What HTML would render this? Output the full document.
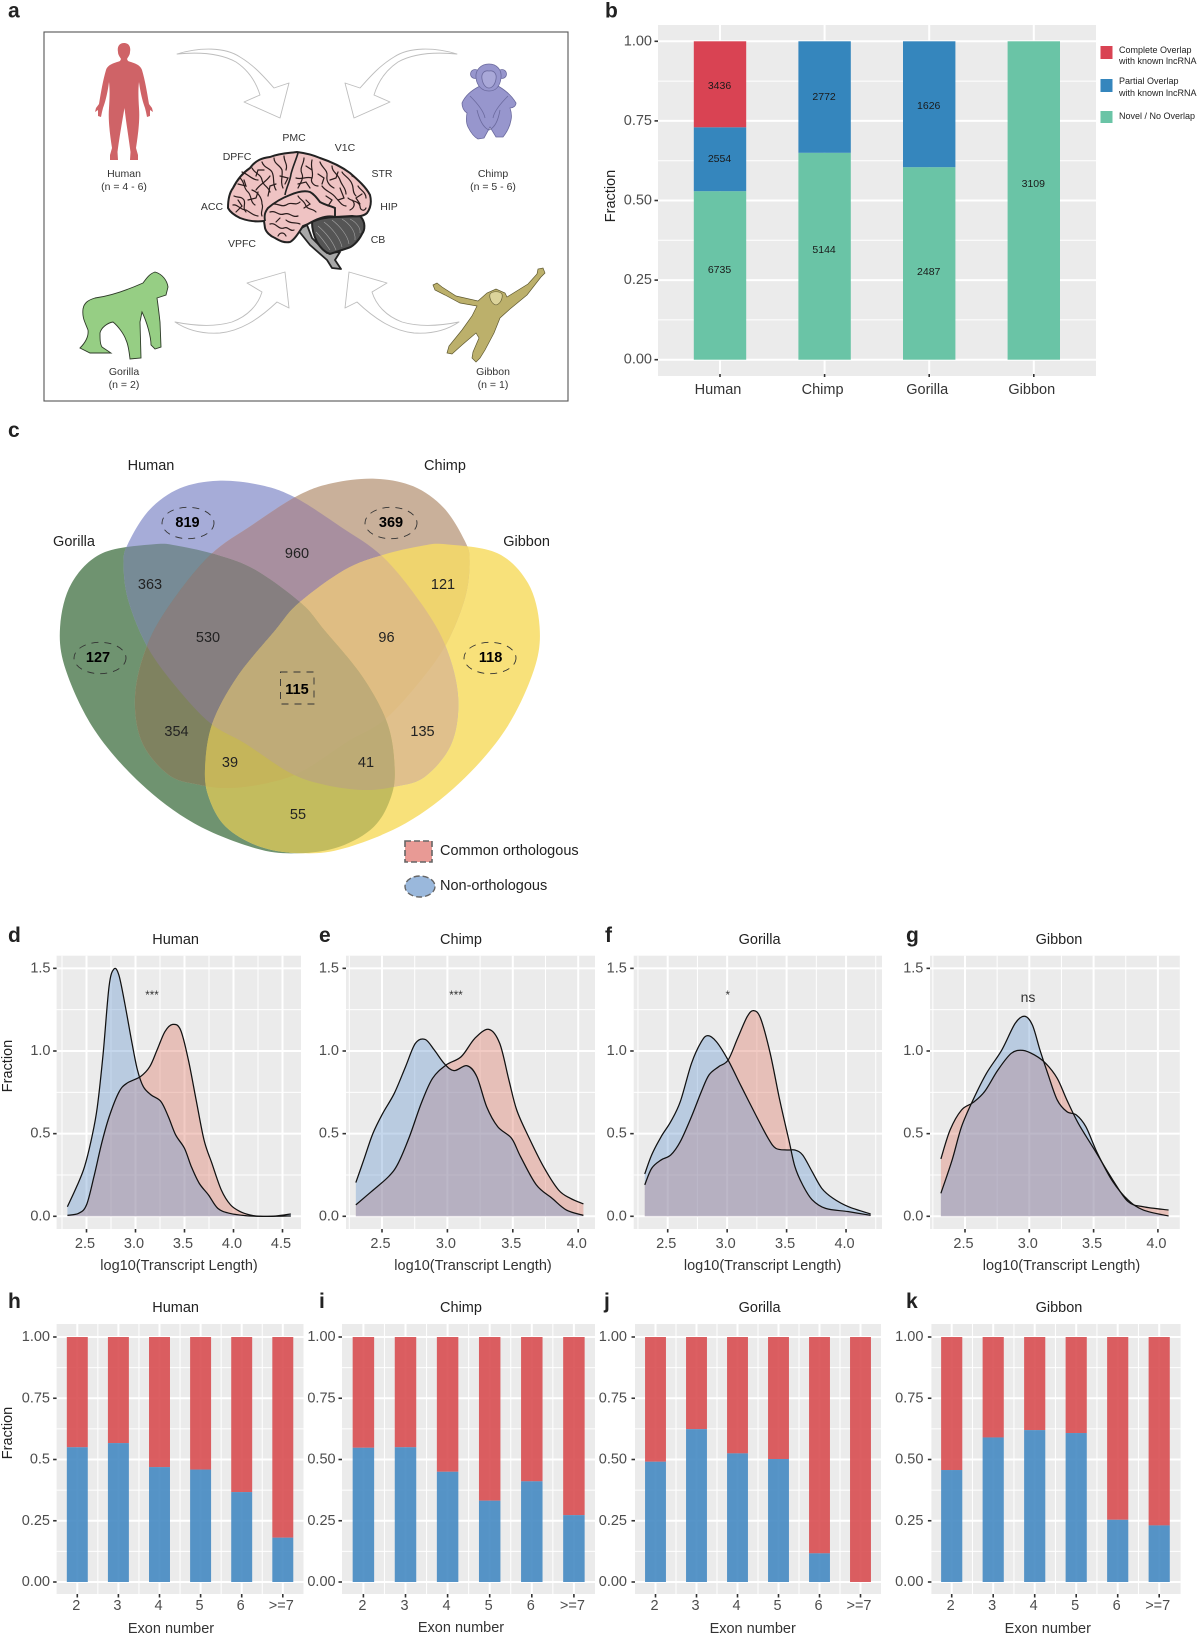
<!DOCTYPE html>
<html lang="en">
<head>
<meta charset="utf-8">
<title>lncRNA primate comparison figure</title>
<style>
html,body{margin:0;padding:0;background:#fff}
svg{display:block;font-family:"Liberation Sans",Arial,sans-serif;filter:blur(0.35px)}
text{dominant-baseline:central}
.pl{font-size:21px;font-weight:bold;fill:#222;dominant-baseline:auto}
.sm{font-size:10.5px;fill:#333;text-anchor:middle}
.vn{font-size:14.5px;fill:#222;text-anchor:middle}
.vb{font-size:14.5px;fill:#000;font-weight:bold;text-anchor:middle}
.gy{fill:none;stroke:#2a1c1c;stroke-width:1.2;stroke-linecap:round}
</style>
</head>
<body>
<svg id="fig" xmlns="http://www.w3.org/2000/svg" width="1200" height="1639" viewBox="0 0 1200 1639">
<rect width="1200" height="1639" fill="#fff"/>

<g>
<text class="pl" x="8" y="17.5">a</text>
<text class="pl" x="605" y="17.5">b</text>
<text class="pl" x="8" y="437">c</text>
<text class="pl" x="8" y="942">d</text>
<text class="pl" x="319" y="942">e</text>
<text class="pl" x="605" y="942">f</text>
<text class="pl" x="906" y="942">g</text>
<text class="pl" x="8" y="1308">h</text>
<text class="pl" x="319" y="1308">i</text>
<text class="pl" x="604" y="1308">j</text>
<text class="pl" x="906" y="1308">k</text>
</g>

<!-- panel a -->
<g>
<rect x="44" y="32" width="524" height="369" fill="#fff" stroke="#555" stroke-width="1.1"/>

<g fill="#fff" stroke="#bdbdbd" stroke-width="0.9" stroke-linejoin="round">
<path d="M177 54 C200 47 225 47 240 57 C255 66 265 78 274 88 L289 83 L280 118 L244 102 L260 95 C256 82 248 70 236 62 C220 53 198 52 177 54Z"/>
<path d="M457 54 C434 47 409 47 394 57 C379 66 369 78 360 88 L345 83 L354 118 L390 102 L374 95 C378 82 386 70 398 62 C414 53 436 52 457 54Z"/>
<path d="M175 322 C190 332 205 334 220 333 C240 331 258 320 277 302 L289 308 L285 272 L247 283 L262 292 C258 305 248 316 232 322 C215 327 195 326 175 322Z"/>
<path d="M459 322 C444 332 429 334 414 333 C394 331 376 320 357 302 L345 308 L349 272 L387 283 L372 292 C376 305 386 316 402 322 C419 327 439 326 459 322Z"/>
</g>

<path fill="#cf6367" d="M124 43 C129 43 131 47 130 52 C130 55 128 57 127 59 L128 61 C133 63 140 64 142 70 C145 80 147 92 149 104 L152 108 L153 112 L150 110 L150 116 L147 117 L146 112 L145 108 C142 100 140 90 139 82 C138 90 138.5 100 139 108 C140 120 138 135 136 148 L138 155 L138 160 L130 160 L130.5 152 C129 140 126 122 124.5 108 C122 122 119 140 117.5 152 L118 160 L110 160 L110 155 L112 148 C110 135 108 120 109 108 C109.5 100 110 90 109 82 C108 90 106 100 103 108 L102 112 L101 117 L98 116 L98 110 L95 112 L96 108 L99 104 C101 92 103 80 106 70 C108 64 115 63 120 61 L121 59 C120 57 118 55 118 52 C117 47 119 43 124 43Z"/>

<g fill="#9796cd" stroke="#6b6a9e" stroke-width="0.8">
<circle cx="475" cy="74" r="4.5"/>
<circle cx="502" cy="74" r="4.5"/>
<path d="M480 86 C472 90 465 96 462 103 C462 108 464 111 467 113 C466 119 466 123 468 127 C471 133 474 137 478 139 L484 138 L490 127 L496 137 L503 137 C507 132 510 126 511 120 C512 116 511 111 510 108 C513 108 516 106 516 103 C512 96 505 90 498 86Z"/>
<path d="M489 64 C497 64 502 70 501 78 C500 86 496 91 489 91 C482 91 477 86 476 78 C475 70 481 64 489 64Z"/>
<path fill="#a9a8d8" d="M489 71 C494 70 497 74 496 79 C495 85 492 88 489 88 C486 88 483 85 482 79 C481 74 484 70 489 71Z"/>
<path fill="none" d="M470 96 C478 104 484 112 485 118 M508 96 C500 104 494 112 493 118 M477 110 C480 122 484 128 489 130 C494 128 498 122 500 110"/>
</g>

<path fill="#96ce84" stroke="#2d3a28" stroke-width="0.9" d="M155 272 C162 274 167 280 168 287 L166 295 L157 298 C158 305 159 313 160 322 L161 347 L155 349 L151 345 C151 337 147 322 142 312 L140 322 L141 358 L130 359 C129 350 128 344 126 340 C124 334 118 326 113 322 C107 323 101 328 100 333 C100 339 100 344 102 347 L111 353 L90 353 L80 348 C84 344 89 338 88 330 C85 322 82 318 83 309 C84 303 88 300 95 298 C110 296 125 291 143 283 C146 279 149 274 155 272Z"/>

<g>
<path fill="#bcb06b" stroke="#5e5830" stroke-width="0.7" d="M433 285 L437 283 L442 287 L456 296 L478 301 L487 293 L496 289 L505 293 L507 297 L528 284 L537 274 L538 269 L543 268 L545 273 L541 277 L527 295 L510 309 L500 318 L494 333 L485 350 L480 358 L476 362 L472 358 L473 352 L479 338 L476 333 L462 345 L452 354 L447 353 L449 346 L462 330 L472 316 L477 306 L460 303 L445 295 L435 290Z"/>
<path fill="#dcd39a" stroke="#5e5830" stroke-width="0.6" d="M490 294 C492 291 500 291 502 294 C503 299 500 304 496 305 C492 304 489 299 490 294Z"/>
</g>

<g>
<path fill="#a8a8a8" stroke="#222" stroke-width="1.8" stroke-linejoin="round" d="M298 230 L307 225 L312 238 L327 253 L340 252 L335 260 L341 269 L332 268 L327 260 L310 245Z"/>
<path fill="#555" stroke="#222" stroke-width="2" d="M312 222 C320 218 330 217 338 217 L360 216 C366 222 365 230 362 234 C358 242 352 247 348 248 L330 254 C324 252 320 247 317 242 C314 236 312 230 312 222Z"/>
<path fill="none" stroke="#a5a5a5" stroke-width="0.6" d="M318 226 C325 232 332 240 336 250 M324 222 C332 228 340 238 342 247 M332 220 C340 226 348 236 349 244 M342 219 C350 224 356 232 355 240 M350 219 C356 222 361 228 360 233 M316 232 C322 238 326 244 330 250"/>
<path fill="#efc3c3" stroke="#222" stroke-width="2" stroke-linejoin="round" d="M228 208 C228 198 230 192 233 188 C238 178 244 172 250 168 C256 160 262 158 270 157 C280 153 290 153 297 152 C305 153 313 155 320 158 C332 162 342 167 350 173 C358 180 366 187 370 195 C372 203 370 209 367 213 C364 216 358 217 352 216 L335 217 C328 215 318 218 308 224 L303 226 C298 234 294 240 290 242 C284 243 280 241 275 238 C270 236 266 232 265 228 L264 221 C256 222 248 221 240 218 C234 215 230 212 228 208Z"/>
<path fill="none" stroke="#222" stroke-width="1.9" d="M265 221 C264 215 265 212 268 208 C275 202 282 198 290 195 C297 192 304 190 310 192 C314 194 317 198 320 202 C325 205 331 206 335 208 L335 217"/>
<path fill="none" stroke="#222" stroke-width="1.6" d="M298 153 C296 160 293 166 291 174 C290 182 286 188 285 195"/>
<g class="gy">
<path d="M240 178 C245 182 243 188 248 192 C252 196 250 202 255 205"/>
<path d="M234 196 C238 198 241 196 244 200 C246 204 242 208 246 212"/>
<path d="M252 168 C255 174 261 174 262 180 C263 186 268 186 270 192"/>
<path d="M262 162 C264 168 270 168 272 172 C275 178 272 184 276 190"/>
<path d="M274 158 C274 164 280 165 282 170 C283 176 280 182 283 188"/>
<path d="M284 156 C284 162 288 164 286 170"/>
<path d="M233 205 C238 204 240 210 246 210 C250 212 254 216 258 216"/>
<path d="M252 190 C258 192 262 198 262 204 C264 208 260 212 262 216"/>
<path d="M242 172 C248 174 252 180 258 180"/>
<path d="M270 176 C266 182 260 184 256 190"/>
<path d="M304 158 C304 164 299 168 302 174 C304 178 300 184 298 188"/>
<path d="M312 160 C310 168 314 172 312 178 C310 182 314 186 318 186"/>
<path d="M320 162 C322 168 328 170 327 176 C326 182 330 186 334 188"/>
<path d="M332 166 C332 172 338 174 340 180 C342 186 346 188 346 194"/>
<path d="M342 172 C344 176 350 178 352 184 C354 188 352 192 356 196"/>
<path d="M296 178 C302 180 306 176 312 178"/>
<path d="M322 186 C326 192 332 192 336 198 C340 202 342 206 346 206"/>
<path d="M348 198 C352 202 358 200 360 206 C360 210 364 212 366 208"/>
<path d="M350 210 C354 208 356 204 352 200"/>
<path d="M358 186 C360 190 366 192 366 198"/>
<path d="M270 212 C276 210 278 216 284 214 C290 212 292 218 298 216"/>
<path d="M274 204 C280 204 282 208 288 204 C292 202 296 206 300 202"/>
<path d="M270 224 C276 222 278 230 284 228 C288 226 290 232 294 230"/>
<path d="M286 220 C290 224 296 222 300 224"/>
<path d="M298 196 C300 200 304 200 306 206 C308 210 312 208 316 212"/>
<path d="M278 236 C280 232 284 232 286 236"/>
<path d="M238 184 L246 186 L244 180"/>
<path d="M248 200 L256 198 L258 192"/>
<path d="M236 212 L242 206 L238 200"/>
<path d="M264 170 L258 170 L256 176"/>
<path d="M276 184 L270 186 L268 196"/>
<path d="M280 176 L288 178 L285 184"/>
<path d="M306 166 L312 170"/>
<path d="M298 184 L306 182 L310 188"/>
<path d="M318 174 L324 178 L322 184"/>
<path d="M330 180 L336 178 L338 172"/>
<path d="M326 196 L332 200 L328 206"/>
<path d="M340 188 L344 198 L338 200"/>
<path d="M356 178 L352 176"/>
<path d="M362 194 L356 198 L360 204"/>
<path d="M280 218 L276 222"/>
<path d="M306 200 L310 204 L304 208"/>
</g>
</g>

<g>
<text class="sm" x="124" y="174">Human</text>
<text class="sm" x="124" y="187">(n = 4 - 6)</text>
<text class="sm" x="493" y="174">Chimp</text>
<text class="sm" x="493" y="187">(n = 5 - 6)</text>
<text class="sm" x="124" y="372">Gorilla</text>
<text class="sm" x="124" y="385">(n = 2)</text>
<text class="sm" x="493" y="372">Gibbon</text>
<text class="sm" x="493" y="385">(n = 1)</text>
<text class="sm" x="294" y="138">PMC</text>
<text class="sm" x="345" y="148">V1C</text>
<text class="sm" x="237" y="157">DPFC</text>
<text class="sm" x="382" y="174">STR</text>
<text class="sm" x="212" y="207">ACC</text>
<text class="sm" x="389" y="207">HIP</text>
<text class="sm" x="242" y="244">VPFC</text>
<text class="sm" x="378" y="240">CB</text>
</g>
</g>

<!-- panel b groups filled by script -->
<g id="panelB"></g>
<g font-size="9px" fill="#222">
<rect x="1100.5" y="46" width="12" height="13" fill="#d94353"/>
<text x="1119" y="50">Complete Overlap</text>
<text x="1119" y="61">with known lncRNA</text>
<rect x="1100.5" y="79" width="12" height="13" fill="#3586bd"/>
<text x="1119" y="81">Partial Overlap</text>
<text x="1119" y="93">with known lncRNA</text>
<rect x="1100.5" y="111" width="12" height="12" fill="#6ac4a6"/>
<text x="1119" y="116">Novel / No Overlap</text>
</g>

<!-- panel c -->
<g>
<g id="vennSets"></g>
<g>
<text class="vn" x="151" y="466">Human</text>
<text class="vn" x="445" y="466">Chimp</text>
<text class="vn" x="74" y="542">Gorilla</text>
<text class="vn" x="526.6" y="542">Gibbon</text>
</g>
<g>
<text class="vb" x="187.5" y="523">819</text>
<text class="vb" x="391" y="523">369</text>
<text class="vb" x="98" y="658">127</text>
<text class="vb" x="490.6" y="658">118</text>
<text class="vb" x="297" y="690">115</text>
<text class="vn" x="297" y="554">960</text>
<text class="vn" x="150" y="585">363</text>
<text class="vn" x="443" y="585">121</text>
<text class="vn" x="208" y="638">530</text>
<text class="vn" x="386.5" y="638">96</text>
<text class="vn" x="176.5" y="732">354</text>
<text class="vn" x="422.5" y="732">135</text>
<text class="vn" x="230" y="763">39</text>
<text class="vn" x="366" y="763">41</text>
<text class="vn" x="298" y="815">55</text>
</g>
<g fill="none" stroke="#333" stroke-width="0.9" stroke-dasharray="7 6">
<ellipse cx="188" cy="523" rx="26" ry="15.7"/>
<ellipse cx="391" cy="523" rx="26" ry="15.7"/>
<ellipse cx="100" cy="658" rx="26" ry="15.7"/>
<ellipse cx="490" cy="658" rx="26" ry="15.7"/>
<rect x="280.5" y="672" width="33.5" height="32"/>
</g>
<g>
<rect x="405" y="841" width="27" height="21" fill="#e89a95" stroke="#666" stroke-width="1.6" stroke-dasharray="6 3"/>
<text x="440" y="851" font-size="14.5px" fill="#222">Common orthologous</text>
<ellipse cx="420" cy="886.5" rx="15" ry="10.5" fill="#9ab8dc" stroke="#666" stroke-width="1.4" stroke-dasharray="6 3"/>
<text x="440" y="886" font-size="14.5px" fill="#222">Non-orthologous</text>
</g>
</g>

<g id="panelsDensity"></g>
<g id="panelsExon"></g>
</svg>

<script>
// ---------- panel b data ----------
const overlapCategories = ['Human', 'Chimp', 'Gorilla', 'Gibbon'];
const novelCounts = [6735, 5144, 2487, 3109];
const partialCounts = [2554, 2772, 1626, 0];
const completeCounts = [3436, 0, 0, 0];
const novelLabelFraction = [0.282, 0.345, 0.276, 0.552];
const partialLabelFraction = [0.63, 0.825, 0.797, 0];
const completeLabelFraction = [0.86, 0, 0, 0];
const overlapYTicks = [0, 0.25, 0.5, 0.75, 1];
const overlapYTickLabels = ['0.00', '0.25', '0.50', '0.75', '1.00'];

// ---------- panels d-g data: transcript length density ----------
const densYTicks = [0, 0.5, 1, 1.5];
const densYMinor = [0.25, 0.75, 1.25];

const humanNonX = [2.305,2.40,2.48,2.555,2.61,2.67,2.73,2.78,2.83,2.89,2.965,3.02,3.08,3.16,3.26,3.335,3.41,3.50,3.57,3.65,3.745,3.84,3.96,4.12,4.27,4.43,4.585];
const humanNonY = [0.058,0.18,0.30,0.48,0.66,0.985,1.39,1.496,1.46,1.29,1.046,0.885,0.784,0.734,0.694,0.603,0.492,0.411,0.30,0.20,0.129,0.048,0.018,0.004,0,0.002,0.014];
const humanOrthoX = [2.305,2.42,2.50,2.576,2.654,2.73,2.83,2.91,3.05,3.145,3.22,3.30,3.38,3.46,3.54,3.62,3.70,3.78,3.875,3.97,4.07,4.17,4.27,4.43,4.585];
const humanOrthoY = [0.006,0.018,0.069,0.24,0.44,0.60,0.75,0.804,0.845,0.905,1.006,1.117,1.161,1.127,0.945,0.70,0.46,0.32,0.16,0.069,0.028,0.008,0,0,0.002];

const chimpNonX = [2.30,2.36,2.43,2.506,2.594,2.68,2.755,2.83,2.90,2.975,3.05,3.15,3.225,3.30,3.385,3.49,3.56,3.68,3.80,3.91,4.04];
const chimpNonY = [0.204,0.34,0.50,0.623,0.744,0.905,1.046,1.07,1.006,0.925,0.881,0.911,0.845,0.663,0.542,0.472,0.36,0.19,0.109,0.038,0.006];
const chimpOrthoX = [2.30,2.418,2.55,2.623,2.71,2.80,2.886,2.99,3.106,3.21,3.317,3.40,3.47,3.53,3.62,3.735,3.85,3.94,4.04];
const chimpOrthoY = [0.069,0.149,0.24,0.32,0.482,0.683,0.834,0.915,0.966,1.077,1.131,1.046,0.825,0.643,0.482,0.30,0.159,0.109,0.075];

const gorillaNonX = [2.307,2.365,2.445,2.526,2.606,2.70,2.783,2.838,2.91,3.008,3.12,3.25,3.345,3.41,3.506,3.57,3.635,3.715,3.796,3.89,4.02,4.207];
const gorillaNonY = [0.256,0.371,0.482,0.573,0.694,0.925,1.056,1.093,1.056,0.945,0.784,0.60,0.472,0.411,0.401,0.401,0.371,0.27,0.169,0.109,0.058,0.014];
const gorillaOrthoX = [2.307,2.365,2.445,2.526,2.606,2.70,2.783,2.847,2.928,3.008,3.088,3.169,3.223,3.281,3.362,3.442,3.522,3.57,3.635,3.715,3.828,4.02,4.207];
const gorillaOrthoY = [0.19,0.29,0.341,0.371,0.452,0.603,0.754,0.855,0.905,0.945,1.077,1.208,1.244,1.198,0.986,0.704,0.452,0.30,0.19,0.10,0.048,0.028,0.006];

const gibbonNonX = [2.3125,2.40,2.473,2.5625,2.667,2.786,2.89,2.964,3.024,3.083,3.143,3.217,3.292,3.366,3.44,3.53,3.649,3.768,3.887,4.083];
const gibbonNonY = [0.139,0.341,0.542,0.704,0.865,1.006,1.167,1.21,1.157,1.006,0.865,0.704,0.633,0.613,0.542,0.381,0.21,0.099,0.038,0.002];
const gibbonOrthoX = [2.3125,2.384,2.473,2.5625,2.652,2.756,2.86,2.95,3.04,3.128,3.217,3.292,3.381,3.50,3.649,3.768,3.887,4.083];
const gibbonOrthoY = [0.347,0.522,0.643,0.688,0.754,0.885,0.986,1.004,0.976,0.925,0.835,0.704,0.5625,0.411,0.22,0.089,0.058,0.038];

// ---------- panels h-k data: exon number fractions (lower, blue segment) ----------
const exonCategories = ['2', '3', '4', '5', '6', '>=7'];
const humanExonFraction = [0.55, 0.567, 0.469, 0.459, 0.367, 0.181];
const chimpExonFraction = [0.548, 0.55, 0.45, 0.332, 0.411, 0.273];
const gorillaExonFraction = [0.491, 0.624, 0.525, 0.502, 0.117, 0];
const gibbonExonFraction = [0.457, 0.59, 0.62, 0.608, 0.254, 0.231];
const exonYTicks = [0, 0.25, 0.5, 0.75, 1];
const exonYMinor = [0.125, 0.375, 0.625, 0.875];
const exonYTickLabels = ['0.00', '0.25', '0.50', '0.75', '1.00'];
const humanExonYTickLabels = ['0.00', '0.25', '0.5', '0.75', '1.00'];

// ---------- helpers ----------
const NS = 'http://www.w3.org/2000/svg';
function mk(tag, attrs, parent, txt) {
  const e = document.createElementNS(NS, tag);
  for (const k in attrs) e.setAttribute(k, attrs[k]);
  if (txt !== undefined) e.textContent = txt;
  parent.appendChild(e);
  return e;
}
const TICK = '#4d4d4d', DARK = '#222';

// ---------- panel c: hand-traced set outlines and the fill of each overlap region ----------
(function () {
  const gibbonShape = [[445.8,544.3],[497.5,553.3],[528.1,583.3],[539.6,626.7],[533.9,670],[505.2,730],[459.2,783.3],[405.7,823.3],[344.4,848.3],[302.3,853.3],[260.2,846.7],[225.8,826.7],[208.6,796.7],[205.1,766.7],[212.4,723.3],[237.3,676.7],[275.5,630],[298.5,603.3],[344.4,570],[382.7,555],[421,546]];
  const humanShape = [[218.1,480.7],[260.2,485],[294.7,497.3],[340.6,526.7],[382.7,556.7],[421,603.3],[445.8,646.7],[458.1,696.7],[451.6,743.3],[424.8,776.7],[394.2,786.7],[363.6,790],[325.3,785],[290.9,773.3],[244.9,743.3],[210.5,723.3],[176,686.7],[147.3,646.7],[128.2,600],[123.6,563.3],[128.2,543.3],[149.3,510],[179.9,488.3]];
  const gorillaShape = gibbonShape.map(p => [599.7 - p[0], p[1]]);
  const chimpShape = humanShape.map(p => [593.2 - p[0], p[1] - 2]);
  function closed(pts) {
    const n = pts.length;
    let d = 'M' + pts[0][0] + ' ' + pts[0][1];
    for (let i = 0; i < n; i++) {
      const p0 = pts[(i - 1 + n) % n], p1 = pts[i], p2 = pts[(i + 1) % n], p3 = pts[(i + 2) % n];
      d += ' C' + (p1[0] + (p2[0] - p0[0]) / 6).toFixed(2) + ' ' + (p1[1] + (p2[1] - p0[1]) / 6).toFixed(2) + ' ' +
        (p2[0] - (p3[0] - p1[0]) / 6).toFixed(2) + ' ' + (p2[1] - (p3[1] - p1[1]) / 6).toFixed(2) + ' ' + p2[0] + ' ' + p2[1];
    }
    return d + 'Z';
  }
  const shapes = {human: closed(humanShape), chimp: closed(chimpShape), gorilla: closed(gorillaShape), gibbon: closed(gibbonShape)};
  const root = document.getElementById('vennSets');
  const defs = mk('defs', {}, root);
  Object.keys(shapes).forEach(k => {
    const cp = mk('clipPath', {id: 'clip-' + k}, defs);
    mk('path', {d: shapes[k]}, cp);
  });
  const regions = [
    [['gorilla'], '#6f9370'], [['gibbon'], '#f8e17a'], [['human'], '#a6acd8'], [['chimp'], '#c9b09a'],
    [['human', 'chimp'], '#a88f9f'], [['human', 'gorilla'], '#778b96'], [['chimp', 'gibbon'], '#efd46e'],
    [['chimp', 'gorilla'], '#7f8260'], [['human', 'gibbon'], '#e0c08c'], [['gorilla', 'gibbon'], '#c3bc5e'],
    [['human', 'chimp', 'gorilla'], '#867f80'], [['human', 'chimp', 'gibbon'], '#dfbd83'],
    [['chimp', 'gorilla', 'gibbon'], '#c5b55a'], [['human', 'gorilla', 'gibbon'], '#bdab75'],
    [['human', 'chimp', 'gorilla', 'gibbon'], '#bfab78']
  ];
  regions.forEach(r => {
    let parent = root;
    const sets = r[0];
    for (let i = 0; i < sets.length - 1; i++) {
      parent = mk('g', {'clip-path': 'url(#clip-' + sets[i] + ')'}, parent);
    }
    const area = mk('path', {d: shapes[sets[sets.length - 1]], fill: r[1]}, parent);
    
    
  });
})();

// axes common: background and gridlines
function drawFrame(g, p, xMajor, xMinor, yMajor, yMinor, xs, ys) {
  const bg = mk('rect', {x: p.left, y: p.top, width: p.right - p.left, height: p.bottom - p.top, fill: '#ebebeb'}, g);
  
  
  yMinor.forEach(v => {
    const l = mk('line', {x1: p.left, x2: p.right, y1: ys(v), y2: ys(v), stroke: '#fff', 'stroke-width': 1}, g);
    
    
  });
  xMinor.forEach(v => {
    const l = mk('line', {y1: p.top, y2: p.bottom, x1: xs(v), x2: xs(v), stroke: '#fff', 'stroke-width': 1}, g);
    
    
  });
  yMajor.forEach(v => {
    const l = mk('line', {x1: p.left, x2: p.right, y1: ys(v), y2: ys(v), stroke: '#fff', 'stroke-width': 2}, g);
    
    
  });
  xMajor.forEach(v => {
    const l = mk('line', {y1: p.top, y2: p.bottom, x1: xs(v), x2: xs(v), stroke: '#fff', 'stroke-width': 2}, g);
    
    
  });
}
function drawYTicks(g, p, ticks, labels, ys) {
  ticks.forEach((v, i) => {
    const t = mk('line', {x1: p.left - 3.5, x2: p.left, y1: ys(v), y2: ys(v), stroke: '#333', 'stroke-width': 1.6}, g);
    
    
    const l = mk('text', {x: p.yLabelX, y: ys(v), 'text-anchor': 'end', 'font-size': '14.5px', fill: TICK}, g, labels[i]);
    
    
  });
}
function smoothPath(pts) {
  let d = '';
  for (let i = 0; i < pts.length - 1; i++) {
    const p0 = pts[Math.max(0, i - 1)], p1 = pts[i], p2 = pts[i + 1], p3 = pts[Math.min(pts.length - 1, i + 2)];
    const c1 = [p1[0] + (p2[0] - p0[0]) / 6, p1[1] + (p2[1] - p0[1]) / 6];
    const c2 = [p2[0] - (p3[0] - p1[0]) / 6, p2[1] - (p3[1] - p1[1]) / 6];
    d += ' C' + c1[0].toFixed(2) + ' ' + c1[1].toFixed(2) + ' ' + c2[0].toFixed(2) + ' ' + c2[1].toFixed(2) + ' ' + p2[0].toFixed(2) + ' ' + p2[1].toFixed(2);
  }
  return d;
}

// ---------- panel b ----------
(function () {
  const g = document.getElementById('panelB');
  const p = {left: 658, right: 1096, top: 25, bottom: 376, yLabelX: 652};
  const ys = v => 359.7 - v * 318.4;
  const xs = i => 720 + i * 104.6;
  const idx = overlapCategories.map((c, i) => i);
  drawFrame(g, p, idx, [], overlapYTicks, [0.125, 0.375, 0.625, 0.875], xs, ys);
  drawYTicks(g, p, overlapYTicks, overlapYTickLabels, ys);
  const bw = 52.4;
  overlapCategories.forEach((cat, i) => {
    const total = novelCounts[i] + partialCounts[i] + completeCounts[i];
    const segs = [
      {k: 'novel', n: novelCounts[i], c: '#6ac4a6', at: novelLabelFraction[i]},
      {k: 'partial', n: partialCounts[i], c: '#3586bd', at: partialLabelFraction[i]},
      {k: 'complete', n: completeCounts[i], c: '#d94353', at: completeLabelFraction[i]}
    ];
    let cum = 0;
    segs.forEach(s => {
      if (!s.n) return;
      const y0 = ys(cum), y1 = ys(cum + s.n / total);
      const r = mk('rect', {x: xs(i) - bw / 2, y: y1, width: bw, height: y0 - y1, fill: s.c}, g);
      
      
      const t = mk('text', {x: xs(i) - 0.5, y: ys(s.at), 'text-anchor': 'middle', 'font-size': '10.5px', fill: '#1a1a1a'}, g, String(s.n));
      
      
      cum += s.n / total;
    });
    const tk = mk('line', {x1: xs(i), x2: xs(i), y1: 374, y2: 377, stroke: '#333', 'stroke-width': 1.6}, g);
    
    
    const lb = mk('text', {x: xs(i) - 2, y: 390, 'text-anchor': 'middle', 'font-size': '14.5px', fill: '#333'}, g, cat);
    
    
  });
  const yt = mk('text', {transform: 'translate(611 196) rotate(-90)', 'text-anchor': 'middle', 'font-size': '14.5px', fill: DARK}, g, 'Fraction');
  
  
})();

// ---------- panels d-g ----------
function drawDensity(cfg) {
  const root = document.getElementById('panelsDensity');
  const g = mk('g', {}, root);
  
  
  const p = cfg.p;
  const xs = v => cfg.x25 + (v - 2.5) * cfg.xPer;
  const ys = v => 1216.3 - v * 165.3;
  drawFrame(g, p, cfg.xTicks, cfg.xMinor, densYTicks, densYMinor, xs, ys);
  drawYTicks(g, p, densYTicks, densYTicks.map(v => v.toFixed(1)), ys);
  cfg.xTicks.forEach(v => {
    const t = mk('line', {x1: xs(v), x2: xs(v), y1: p.bottom, y2: p.bottom + 3.5, stroke: '#333', 'stroke-width': 1.6}, g);
    
    
    const l = mk('text', {x: xs(v) - 1.5, y: 1244, 'text-anchor': 'middle', 'font-size': '14.5px', fill: TICK}, g, v.toFixed(1));
    
    
  });
  const series = [
    {k: 'common-orthologous', xv: cfg.orthoX, yv: cfg.orthoY, fill: '#de7d6b'},
    {k: 'non-orthologous', xv: cfg.nonX, yv: cfg.nonY, fill: '#6e9bcf'}
  ];
  series.forEach(s => {
    const pts = s.xv.map((x, i) => [xs(x), ys(s.yv[i])]);
    const curve = 'M' + pts[0][0].toFixed(2) + ' ' + pts[0][1].toFixed(2) + smoothPath(pts);
    const area = mk('path', {d: curve + ' L' + pts[pts.length - 1][0].toFixed(2) + ' ' + ys(0) + ' L' + pts[0][0].toFixed(2) + ' ' + ys(0) + 'Z', fill: s.fill, 'fill-opacity': 0.4}, g);
    
    
    s.curve = curve;
  });
  series.forEach(s => {
    const ln = mk('path', {d: s.curve, fill: 'none', stroke: '#111', 'stroke-width': 1.25}, g);
    
    
  });
  const title = mk('text', {x: cfg.titleX, y: 940, 'text-anchor': 'middle', 'font-size': '14.5px', fill: DARK}, g, cfg.title);
  
  
  const sig = mk('text', {x: cfg.sigX, y: cfg.sigY, 'text-anchor': 'middle', 'font-size': cfg.sig === 'ns' ? '14px' : '11.5px', fill: '#333'}, g, cfg.sig);
  
  
  const xt = mk('text', {x: cfg.axisX, y: 1266, 'text-anchor': 'middle', 'font-size': '14.5px', fill: '#333'}, g, 'log10(Transcript Length)');
  
  
  if (cfg.showY) {
    const yt = mk('text', {transform: 'translate(8 1066) rotate(-90)', 'text-anchor': 'middle', 'font-size': '14.5px', fill: DARK}, g, 'Fraction');
    
    
  }
}
drawDensity({title: 'Human', titleX: 175.6, axisX: 179, sig: '***', sigX: 152, sigY: 996, showY: true,
  p: {left: 56.6, right: 301, top: 955.7, bottom: 1229, yLabelX: 50.5}, x25: 86.5, xPer: 98,
  xTicks: [2.5, 3, 3.5, 4, 4.5], xMinor: [2.25, 2.75, 3.25, 3.75, 4.25],
  nonX: humanNonX, nonY: humanNonY, orthoX: humanOrthoX, orthoY: humanOrthoY});
drawDensity({title: 'Chimp', titleX: 461, axisX: 473, sig: '***', sigX: 456, sigY: 996,
  p: {left: 346, right: 595, top: 955.7, bottom: 1229, yLabelX: 339}, x25: 382, xPer: 130.8,
  xTicks: [2.5, 3, 3.5, 4], xMinor: [2.25, 2.75, 3.25, 3.75],
  nonX: chimpNonX, nonY: chimpNonY, orthoX: chimpOrthoX, orthoY: chimpOrthoY});
drawDensity({title: 'Gorilla', titleX: 759.6, axisX: 762.6, sig: '*', sigX: 727.8, sigY: 996,
  p: {left: 633.7, right: 882, top: 955.7, bottom: 1229, yLabelX: 626.8}, x25: 667.7, xPer: 118.9,
  xTicks: [2.5, 3, 3.5, 4], xMinor: [2.25, 2.75, 3.25, 3.75, 4.25],
  nonX: gorillaNonX, nonY: gorillaNonY, orthoX: gorillaOrthoX, orthoY: gorillaOrthoY});
drawDensity({title: 'Gibbon', titleX: 1059, axisX: 1061.5, sig: 'ns', sigX: 1028, sigY: 997,
  p: {left: 930, right: 1179.8, top: 955.7, bottom: 1229, yLabelX: 923.4}, x25: 965, xPer: 128.6,
  xTicks: [2.5, 3, 3.5, 4], xMinor: [2.25, 2.75, 3.25, 3.75],
  nonX: gibbonNonX, nonY: gibbonNonY, orthoX: gibbonOrthoX, orthoY: gibbonOrthoY});

// ---------- panels h-k ----------
function drawExon(cfg) {
  const root = document.getElementById('panelsExon');
  const g = mk('g', {}, root);
  
  
  const p = cfg.p;
  const xs = i => cfg.x0 + i * cfg.step;
  const ys = v => 1582 - v * 245;
  const idx = exonCategories.map((c, i) => i);
  const mids = exonCategories.slice(1).map((c, i) => i + 0.5);
  drawFrame(g, p, idx, mids, exonYTicks, exonYMinor, xs, ys);
  drawYTicks(g, p, exonYTicks, cfg.labels, ys);
  const bw = cfg.step * 0.51;
  exonCategories.forEach((cat, i) => {
    const v = cfg.values[i];
    const red = mk('rect', {x: xs(i) - bw / 2, y: ys(1), width: bw, height: ys(v) - ys(1), fill: '#d7474b', 'fill-opacity': 0.87}, g);
    
    
    if (v > 0) {
      const blue = mk('rect', {x: xs(i) - bw / 2, y: ys(v), width: bw, height: ys(0) - ys(v), fill: '#3e85c0', 'fill-opacity': 0.87}, g);
      
      
    }
    const t = mk('line', {x1: xs(i), x2: xs(i), y1: p.bottom, y2: p.bottom + 3.5, stroke: '#333', 'stroke-width': 1.6}, g);
    
    
    const l = mk('text', {x: xs(i) - (i === 5 ? 1.5 : 1), y: 1606, 'text-anchor': 'middle', 'font-size': '14.5px', fill: TICK}, g, cat);
    
    
  });
  const title = mk('text', {x: cfg.titleX, y: 1308, 'text-anchor': 'middle', 'font-size': '14.5px', fill: DARK}, g, cfg.title);
  
  
  const xt = mk('text', {x: cfg.axisX, y: cfg.axisY, 'text-anchor': 'middle', 'font-size': '14.5px', fill: '#333'}, g, 'Exon number');
  
  
  if (cfg.showY) {
    const yt = mk('text', {transform: 'translate(8 1433) rotate(-90)', 'text-anchor': 'middle', 'font-size': '14.5px', fill: DARK}, g, 'Fraction');
    
    
  }
}
drawExon({title: 'Human', titleX: 175.6, axisX: 171, axisY: 1629, showY: true, labels: humanExonYTickLabels,
  p: {left: 56.6, right: 303.5, top: 1324, bottom: 1594, yLabelX: 50}, x0: 77.3, step: 41.1, values: humanExonFraction});
drawExon({title: 'Chimp', titleX: 461, axisX: 461, axisY: 1628, labels: exonYTickLabels,
  p: {left: 342, right: 595, top: 1324, bottom: 1594, yLabelX: 335.6}, x0: 363.4, step: 42.1, values: chimpExonFraction});
drawExon({title: 'Gorilla', titleX: 759.6, axisX: 752.7, axisY: 1629, labels: exonYTickLabels,
  p: {left: 635, right: 881, top: 1324, bottom: 1594, yLabelX: 627}, x0: 655.5, step: 41, values: gorillaExonFraction});
drawExon({title: 'Gibbon', titleX: 1059, axisX: 1047.8, axisY: 1629, labels: exonYTickLabels,
  p: {left: 931.4, right: 1180.6, top: 1324, bottom: 1594, yLabelX: 923.4}, x0: 951.7, step: 41.5, values: gibbonExonFraction});
</script>
</body>
</html>
